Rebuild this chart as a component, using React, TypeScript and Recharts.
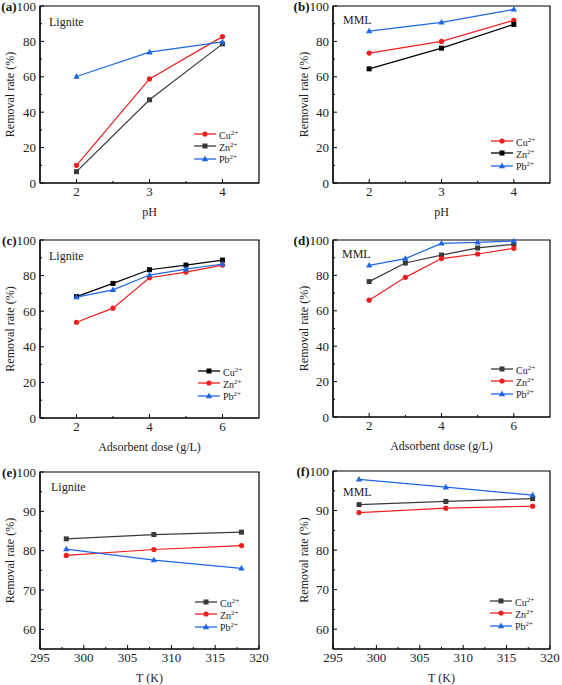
import React from "react"
import { LineChart, Line, XAxis, YAxis, ReferenceArea, Legend } from "recharts"

// x values
const phLevels = [2, 3, 4]
const doseLevels = [2, 3, 4, 5, 6]
const tempLevels = [298, 308, 318]

// (a) Lignite, pH
const ligPhCu = [10.0, 58.8, 82.7]
const ligPhZn = [6.4, 47.0, 78.6]
const ligPhPb = [60.2, 73.9, 79.7]
// (b) MML, pH
const mmlPhCu = [73.4, 80.0, 91.9]
const mmlPhZn = [64.5, 76.2, 89.6]
const mmlPhPb = [85.8, 90.8, 98.1]
// (c) Lignite, adsorbent dose
const ligDoseCu = [68.2, 75.6, 83.3, 85.9, 88.7]
const ligDoseZn = [53.8, 61.7, 78.8, 82.0, 85.9]
const ligDosePb = [67.9, 72.0, 80.3, 83.6, 86.5]
// (d) MML, adsorbent dose
const mmlDoseCu = [76.5, 87.0, 91.5, 95.5, 97.6]
const mmlDoseZn = [66.0, 78.9, 89.5, 92.1, 95.3]
const mmlDosePb = [85.7, 89.5, 98.1, 98.7, 99.4]
// (e) Lignite, temperature
const ligTempCu = [83.0, 84.1, 84.7]
const ligTempZn = [78.8, 80.3, 81.3]
const ligTempPb = [80.4, 77.6, 75.5]
// (f) MML, temperature
const mmlTempCu = [91.5, 92.3, 93.0]
const mmlTempZn = [89.5, 90.6, 91.1]
const mmlTempPb = [97.9, 95.9, 93.9]

// axis ticks
const phTicks = [2, 3, 4]
const phMinor = [2.5, 3.5]
const doseTicks = [2, 4, 6]
const doseMinor = [3, 5]
const tempTicks = [295, 300, 305, 310, 315, 320]
const tempMinor = [297.5, 302.5, 307.5, 312.5, 317.5]
const rateTicks = [0, 20, 40, 60, 80, 100]
const rateMinor = [10, 30, 50, 70, 90]
const rateTicksT = [60, 70, 80, 90, 100]
const rateMinorT = [65, 75, 85, 95]

const ions = ["Cu", "Zn", "Pb"]

const RED = "#f01e1e"
const BLUE = "#1f66e5"
const GRAY = "#3a3a3a"
const BLACK = "#000000"
const FONT = '"Liberation Serif", "Times New Roman", serif'

type Shape = "circle" | "square" | "triangle"
type SeriesStyle = { color: string; shape: Shape }

const rows = (xs: number[], cu: number[], zn: number[], pb: number[]) =>
  xs.map((x, i) => ({ x, cu: cu[i], zn: zn[i], pb: pb[i] }))

function Marker({ cx, cy, shape, color }: { cx: number; cy: number; shape: Shape; color: string }) {
  if (shape === "circle") return <circle cx={cx} cy={cy} r={2.6} fill={color} />
  if (shape === "square") return <rect x={cx - 2.5} y={cy - 2.5} width={5} height={5} fill={color} />
  return (
    <polygon
      points={`${cx},${cy - 3.4} ${cx - 3.2},${cy + 2.2} ${cx + 3.2},${cy + 2.2}`}
      fill={color}
    />
  )
}

const makeXTick = (major: number[]) => (props: any) => {
  const { x, y, payload } = props
  const isMajor = major.includes(payload.value)
  return (
    <g key={`xt-${payload.value}`}>
      <line x1={x} x2={x} y1={y} y2={y - (isMajor ? 4 : 2)} stroke="#000" strokeWidth={1} />
      {isMajor && (
        <text x={x} y={y + 4} dy="0.71em" textAnchor="middle" fontSize={13} style={{ fontFamily: FONT }} fill="#222">
          {payload.value}
        </text>
      )}
    </g>
  )
}

const makeYTick = (major: number[]) => (props: any) => {
  const { x, y, payload } = props
  const isMajor = major.includes(payload.value)
  return (
    <g key={`yt-${payload.value}`}>
      <line x1={x} x2={x + (isMajor ? 4 : 2)} y1={y} y2={y} stroke="#000" strokeWidth={1} />
      {isMajor && (
        <text x={x - 4} y={y} dy="0.355em" textAnchor="end" fontSize={13} style={{ fontFamily: FONT }} fill="#222">
          {payload.value}
        </text>
      )}
    </g>
  )
}

type PanelProps = {
  letter: string
  sample: string
  xTitle: string
  frame: { x: number; y: number; w: number; h: number }
  data: { x: number; cu: number; zn: number; pb: number }[]
  styles: SeriesStyle[]
  xDomain: [number, number]
  xMajor: number[]
  xMinor: number[]
  yDomain: [number, number]
  yMajor: number[]
  yMinor: number[]
  legendPos: { x: number; y: number }
  samplePos: { x: number; y: number }
}

function LegendBox({ styles }: { styles: SeriesStyle[] }) {
  return (
    <div style={{ fontFamily: FONT, fontSize: 10, color: "#222" }}>
      {ions.map((ion, i) => (
        <div key={ion} style={{ display: "flex", alignItems: "center", height: 12.4 }}>
          <svg width={22} height={10} style={{ display: "block" }}>
            <line x1={0} x2={22} y1={5} y2={5} stroke={styles[i].color} strokeWidth={1.3} />
            <Marker cx={11} cy={5} shape={styles[i].shape} color={styles[i].color} />
          </svg>
          <span style={{ marginLeft: 3, lineHeight: "10px" }}>
            {ion}
            <sup style={{ fontSize: 7, verticalAlign: "4px" }}>2+</sup>
          </span>
        </div>
      ))}
    </div>
  )
}

function Panel(p: PanelProps) {
  const left = 40
  const top = 8
  const right = 14
  const chartX = p.frame.x - left
  const chartY = p.frame.y - top
  const width = p.frame.w + left + right
  const height = p.frame.h + top + 36
  const keys = ["cu", "zn", "pb"]
  return (
    <div style={{ position: "absolute", left: chartX, top: chartY, width, height }}>
      <LineChart width={width} height={height} data={p.data} margin={{ top, right, left: 0, bottom: 0 }}>
        <XAxis
          dataKey="x"
          type="number"
          domain={p.xDomain}
          ticks={[...p.xMajor, ...p.xMinor].sort((a, b) => a - b)}
          interval={0}
          height={36}
          tickSize={0}
          tickMargin={0}
          tickLine={false}
          tick={makeXTick(p.xMajor)}
          axisLine={{ stroke: "#000", strokeWidth: 1.2 }}
          label={{
            value: p.xTitle,
            position: "insideBottom",
            offset: 3,
            fontSize: 12,
            fill: "#222",
            style: { fontFamily: FONT },
          }}
        />
        <YAxis
          type="number"
          domain={p.yDomain}
          ticks={[...p.yMajor, ...p.yMinor].sort((a, b) => a - b)}
          interval={0}
          width={left}
          tickSize={0}
          tickMargin={0}
          tickLine={false}
          tick={makeYTick(p.yMajor)}
          axisLine={{ stroke: "#000", strokeWidth: 1.2 }}
          label={{
            value: "Removal rate (%)",
            angle: -90,
            position: "insideLeft",
            offset: p.frame.x < 100 ? 10 : 11,
            fontSize: 12,
            fill: "#222",
            style: { textAnchor: "middle", fontFamily: FONT },
          }}
        />
        <ReferenceArea
          x1={p.xDomain[0]}
          x2={p.xDomain[1]}
          y1={p.yDomain[0]}
          y2={p.yDomain[1]}
          fill="none"
          stroke="#000"
          strokeWidth={1.2}
          fillOpacity={0}
        />
        {keys.map((k, i) => (
          <Line
            key={k}
            dataKey={k}
            stroke={p.styles[i].color}
            strokeWidth={1.2}
            isAnimationActive={false}
            dot={(d: any) => (
              <Marker key={`${k}-${d.index}`} cx={d.cx} cy={d.cy} shape={p.styles[i].shape} color={p.styles[i].color} />
            )}
            activeDot={false}
          />
        ))}
        <Legend
          layout="vertical"
          align="center"
          verticalAlign="middle"
          wrapperStyle={{ left: left + p.legendPos.x, top: top + p.legendPos.y - 6.2, width: "auto", height: "auto" }}
          content={() => <LegendBox styles={p.styles} />}
        />
      </LineChart>
      <div
        style={{
          position: "absolute",
          left: left + p.samplePos.x,
          top: top + p.samplePos.y - 7,
          fontFamily: FONT,
          fontSize: 12,
          lineHeight: "14px",
          color: "#222",
        }}
      >
        {p.sample}
      </div>
      <div
        style={{
          position: "absolute",
          right: width - left + 23.5,
          top: top - 8 + 2,
          fontFamily: FONT,
          fontSize: 13,
          fontWeight: "bold",
          lineHeight: "14px",
          color: "#111",
          whiteSpace: "nowrap",
        }}
      >
        {p.letter}
      </div>
    </div>
  )
}

const lignitePh: SeriesStyle[] = [
  { color: RED, shape: "circle" },
  { color: GRAY, shape: "square" },
  { color: BLUE, shape: "triangle" },
]
const mmlPh: SeriesStyle[] = [
  { color: RED, shape: "circle" },
  { color: BLACK, shape: "square" },
  { color: BLUE, shape: "triangle" },
]
const ligniteDose: SeriesStyle[] = [
  { color: BLACK, shape: "square" },
  { color: RED, shape: "circle" },
  { color: BLUE, shape: "triangle" },
]
const grayFirst: SeriesStyle[] = [
  { color: GRAY, shape: "square" },
  { color: RED, shape: "circle" },
  { color: BLUE, shape: "triangle" },
]

const panels: PanelProps[] = [
  {
    letter: "(a)", sample: "Lignite", xTitle: "pH",
    frame: { x: 40, y: 6, w: 219, h: 177 },
    data: rows(phLevels, ligPhCu, ligPhZn, ligPhPb), styles: lignitePh,
    xDomain: [1.5, 4.5], xMajor: phTicks, xMinor: phMinor,
    yDomain: [0, 100], yMajor: rateTicks, yMinor: rateMinor,
    legendPos: { x: 154, y: 128 }, samplePos: { x: 9, y: 16 },
  },
  {
    letter: "(b)", sample: "MML", xTitle: "pH",
    frame: { x: 333, y: 6, w: 217, h: 177 },
    data: rows(phLevels, mmlPhCu, mmlPhZn, mmlPhPb), styles: mmlPh,
    xDomain: [1.5, 4.5], xMajor: phTicks, xMinor: phMinor,
    yDomain: [0, 100], yMajor: rateTicks, yMinor: rateMinor,
    legendPos: { x: 158, y: 135 }, samplePos: { x: 10, y: 14 },
  },
  {
    letter: "(c)", sample: "Lignite", xTitle: "Adsorbent dose (g/L)",
    frame: { x: 40, y: 240, w: 219, h: 178 },
    data: rows(doseLevels, ligDoseCu, ligDoseZn, ligDosePb), styles: ligniteDose,
    xDomain: [1, 7], xMajor: doseTicks, xMinor: doseMinor,
    yDomain: [0, 100], yMajor: rateTicks, yMinor: rateMinor,
    legendPos: { x: 158, y: 131 }, samplePos: { x: 9, y: 16 },
  },
  {
    letter: "(d)", sample: "MML", xTitle: "Adsorbent dose (g/L)",
    frame: { x: 333, y: 240, w: 217, h: 177 },
    data: rows(doseLevels, mmlDoseCu, mmlDoseZn, mmlDosePb), styles: grayFirst,
    xDomain: [1, 7], xMajor: doseTicks, xMinor: doseMinor,
    yDomain: [0, 100], yMajor: rateTicks, yMinor: rateMinor,
    legendPos: { x: 158, y: 129 }, samplePos: { x: 9, y: 14 },
  },
  {
    letter: "(e)", sample: "Lignite", xTitle: "T (K)",
    frame: { x: 40, y: 472, w: 219, h: 177 },
    data: rows(tempLevels, ligTempCu, ligTempZn, ligTempPb), styles: grayFirst,
    xDomain: [295, 320], xMajor: tempTicks, xMinor: tempMinor,
    yDomain: [55, 100], yMajor: rateTicksT, yMinor: rateMinorT,
    legendPos: { x: 155, y: 130 }, samplePos: { x: 11, y: 15 },
  },
  {
    letter: "(f)", sample: "MML", xTitle: "T (K)",
    frame: { x: 333, y: 471, w: 217, h: 178 },
    data: rows(tempLevels, mmlTempCu, mmlTempZn, mmlTempPb), styles: grayFirst,
    xDomain: [295, 320], xMajor: tempTicks, xMinor: tempMinor,
    yDomain: [55, 100], yMajor: rateTicksT, yMinor: rateMinorT,
    legendPos: { x: 157, y: 130 }, samplePos: { x: 10, y: 21 },
  },
]

export default function App() {
  return (
    <div
      style={{
        position: "absolute",
        left: 0,
        top: 0,
        width: 562,
        height: 685,
        background: "#fff",
        overflow: "hidden",
      }}
    >
      {panels.map((p) => (
        <Panel key={p.letter} {...p} />
      ))}
    </div>
  )
}
